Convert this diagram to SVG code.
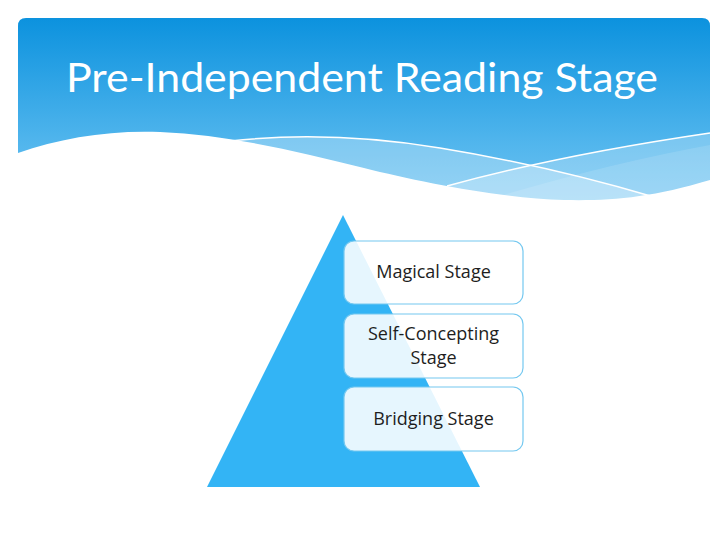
<svg xmlns="http://www.w3.org/2000/svg" width="728" height="546" viewBox="0 0 728 546">
<defs>
<linearGradient id="hg" x1="0" y1="18" x2="0" y2="200" gradientUnits="userSpaceOnUse">
<stop offset="0" stop-color="#0c92de"/>
<stop offset="0.7" stop-color="#52b6ed"/>
<stop offset="1" stop-color="#6cc2f1"/>
</linearGradient>
<style>
.box{fill:#ffffff;fill-opacity:0.88;stroke:#74c8f0;stroke-width:1.2}
.lbl{font-family:"Open Sans",Lato,sans-serif;font-size:18px;fill:#1e1e1e;text-anchor:middle}
.wl{fill:none;stroke:#ffffff;stroke-width:1.5}
</style>
</defs>
<rect width="728" height="546" fill="#ffffff"/>
<g id="header">
<path d="M18,26 Q18,18 26,18 L702,18 Q710,18 710,26 L710,215 L18,215 Z" fill="url(#hg)"/>
<path d="M230,141 Q330,130 440,148 T654,197 L654,215 L230,215 Z" fill="#ffffff" fill-opacity="0.28"/>
<path d="M447,186 Q560,155 710,133 L710,215 L447,215 Z" fill="#ffffff" fill-opacity="0.25"/>
<path d="M470,205 Q600,165 710,145 L710,215 Z" fill="#ffffff" fill-opacity="0.12"/>
<path d="M18,153 C60,138 110,130 160,132 C230,135 300,152 364,168 C420,182 500,198 564,200 C610,201 650,198 710,180 L710,216 L18,216 Z" fill="#ffffff"/>
<path class="wl" d="M230,141 Q330,130 440,148 T654,197"/>
<path class="wl" d="M447,186 Q560,155 710,133"/>
<text x="66" y="92" font-family="Lato,'Open Sans',sans-serif" font-size="41" fill="#ffffff" textLength="592" lengthAdjust="spacingAndGlyphs">Pre-Independent Reading Stage</text>
</g>
<g id="pyramid">
<polygon points="343,215 480,487 207,487" fill="#33b4f5"/>
</g>
<g id="magical">
<rect class="box" x="344" y="241" width="179" height="63" rx="10"/>
<text class="lbl" x="433.5" y="278">Magical Stage</text>
</g>
<g id="selfconcepting">
<rect class="box" x="344" y="314" width="179" height="64" rx="10"/>
<text class="lbl" x="433.5" y="339.5">Self-Concepting</text>
<text class="lbl" x="433.5" y="364">Stage</text>
</g>
<g id="bridging">
<rect class="box" x="344" y="387" width="179" height="64" rx="10"/>
<text class="lbl" x="433.5" y="425">Bridging Stage</text>
</g>
<g id="connectors"></g>
</svg>
